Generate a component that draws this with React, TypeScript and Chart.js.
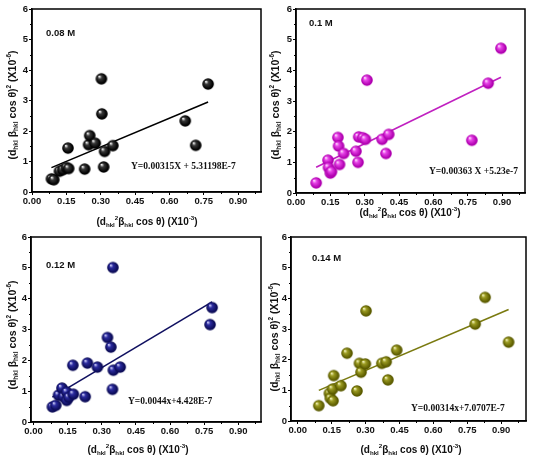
import React, { useEffect, useRef } from "react";
import { Chart, registerables } from "chart.js";

Chart.register(...registerables);

// Shared tick values (x in units of 1e-3, y in units of 1e-6)
const X_TICKS = [0, 0.15, 0.3, 0.45, 0.6, 0.75, 0.9];
const Y_TICKS = [0, 1, 2, 3, 4, 5, 6];

// 0.08 M
const X_008 = [0.085, 0.095, 0.12, 0.135, 0.15, 0.16, 0.157, 0.23, 0.247, 0.252, 0.276, 0.303, 0.305, 0.313, 0.317, 0.353, 0.669, 0.715, 0.769];
const Y_008 = [0.43, 0.4, 0.68, 0.73, 0.8, 0.77, 1.44, 0.75, 1.55, 1.85, 1.6, 3.71, 2.56, 0.82, 1.33, 1.52, 2.33, 1.53, 3.54];
const SLOPE_008 = 0.00315;
const INTERCEPT_008 = 5.31198e-7;
const EQ_008 = "Y=0.00315X + 5.31198E-7";

// 0.1 M
const X_010 = [0.088, 0.14, 0.142, 0.15, 0.155, 0.183, 0.186, 0.19, 0.208, 0.262, 0.271, 0.274, 0.292, 0.303, 0.31, 0.376, 0.393, 0.405, 0.768, 0.839, 0.895];
const Y_010 = [0.33, 1.07, 0.83, 0.65, 0.7, 1.81, 1.53, 0.93, 1.29, 1.36, 1.0, 1.83, 1.8, 1.75, 3.68, 1.75, 1.29, 1.91, 1.72, 3.58, 4.72];
const SLOPE_010 = 0.00363;
const INTERCEPT_010 = 5.23e-7;
const EQ_010 = "Y=0.00363 X +5.23e-7";

// 0.12 M
const X_012 = [0.083, 0.098, 0.11, 0.125, 0.132, 0.146, 0.146, 0.155, 0.175, 0.227, 0.173, 0.237, 0.281, 0.325, 0.34, 0.347, 0.351, 0.349, 0.381, 0.776, 0.785];
const Y_012 = [0.49, 0.54, 0.87, 1.1, 0.82, 0.97, 0.7, 0.8, 0.9, 0.82, 1.84, 1.91, 1.78, 2.74, 2.43, 1.06, 1.68, 5.01, 1.78, 3.16, 3.71];
const SLOPE_012 = 0.0044;
const INTERCEPT_012 = 4.428e-7;
const EQ_012 = "Y=0.0044x+4.428E-7";

// 0.14 M
const X_014 = [0.093, 0.14, 0.144, 0.156, 0.154, 0.159, 0.191, 0.218, 0.262, 0.273, 0.28, 0.299, 0.302, 0.372, 0.391, 0.399, 0.438, 0.785, 0.829, 0.933];
const Y_014 = [0.5, 0.9, 0.74, 0.66, 1.04, 1.48, 1.15, 2.21, 0.98, 1.88, 1.59, 1.86, 3.59, 1.88, 1.93, 1.34, 2.31, 3.16, 4.03, 2.57];
const SLOPE_014 = 0.00314;
const INTERCEPT_014 = 7.0707e-7;
const EQ_014 = "Y=0.00314x+7.0707E-7";

const LABELS = ["0.08 M", "0.1 M", "0.12 M", "0.14 M"];

type Seg = [string, number]; // 0 normal, 1 superscript, -1 subscript

const Y_TITLE: Seg[] = [
  ["(d", 0], ["hkl", -1], [" \u03B2", 0], ["hkl", -1], [" cos \u03B8)", 0], ["2", 1], [" (X10", 0], ["-6", 1], [")", 0],
];
const X_TITLE: Seg[] = [
  ["(d", 0], ["hkl", -1], ["2", 1], ["\u03B2", 0], ["hkl", -1], [" cos \u03B8) (X10", 0], ["-3", 1], [")", 0],
];

const SANS = '"Liberation Sans", Arial, sans-serif';
const SERIF = '"Liberation Serif", "Times New Roman", serif';

function drawRich(ctx: CanvasRenderingContext2D, segs: Seg[], x: number, y: number, size: number, vertical: boolean) {
  const fontFor = (k: number) => `bold ${k === 0 ? size : size * 0.62}px ${SANS}`;
  ctx.save();
  ctx.translate(x, y);
  if (vertical) ctx.rotate(-Math.PI / 2);
  let total = 0;
  for (const [t, k] of segs) {
    ctx.font = fontFor(k);
    total += ctx.measureText(t).width;
  }
  let cx = -total / 2;
  ctx.textAlign = "left";
  ctx.textBaseline = "alphabetic";
  ctx.fillStyle = "#111";
  for (const [t, k] of segs) {
    ctx.font = fontFor(k);
    const dy = k === 1 ? -size * 0.42 : k === -1 ? size * 0.22 : 0;
    ctx.fillText(t, cx, size * 0.36 + dy);
    cx += ctx.measureText(t).width;
  }
  ctx.restore();
}

function makeSphere(hi: string, mid: string, edge: string, r: number) {
  const c = document.createElement("canvas");
  const s = Math.ceil(r * 2) + 2;
  c.width = s;
  c.height = s;
  const g = c.getContext("2d")!;
  const cx = s / 2;
  const cy = s / 2;
  const grad = g.createRadialGradient(cx - r * 0.38, cy - r * 0.42, r * 0.05, cx, cy, r);
  grad.addColorStop(0, hi);
  grad.addColorStop(0.3, mid);
  grad.addColorStop(0.85, edge);
  grad.addColorStop(1, edge);
  g.fillStyle = grad;
  g.beginPath();
  g.arc(cx, cy, r, 0, Math.PI * 2);
  g.fill();
  return c;
}

interface PanelSpec {
  xs: number[];
  ys: number[];
  slope: number;
  intercept: number;
  eq: string;
  label: string;
  sphere: [string, string, string];
  lineColor: string;
  box: { left: number; top: number; width: number; height: number };
  pad: { yw: number; top: number; right: number; xh: number };
  xRange: [number, number];
  text: { yTitleX: number; yTitleY: number; xTitleX: number; xTitleY: number; labelX: number; labelY: number; eqX: number; eqY: number };
}

const PANELS: PanelSpec[] = [
  {
    xs: X_008, ys: Y_008, slope: SLOPE_008, intercept: INTERCEPT_008, eq: EQ_008, label: LABELS[0],
    sphere: ["#ffffff", "#3a3a3a", "#000000"], lineColor: "#000000",
    box: { left: 0, top: 0, width: 266, height: 230 },
    pad: { yw: 32, top: 9, right: 5, xh: 38 },
    xRange: [0, 1.0],
    text: { yTitleX: 12, yTitleY: 105, xTitleX: 147, xTitleY: 221, labelX: 46, labelY: 33, eqX: 131, eqY: 167 },
  },
  {
    xs: X_010, ys: Y_010, slope: SLOPE_010, intercept: INTERCEPT_010, eq: EQ_010, label: LABELS[1],
    sphere: ["#ffe0ff", "#e845e8", "#b000b0"], lineColor: "#c020c0",
    box: { left: 266, top: 0, width: 267, height: 230 },
    pad: { yw: 30, top: 9, right: 8, xh: 37 },
    xRange: [0, 1.0],
    text: { yTitleX: 9, yTitleY: 105, xTitleX: 144, xTitleY: 212, labelX: 43, labelY: 23, eqX: 163, eqY: 172 },
  },
  {
    xs: X_012, ys: Y_012, slope: SLOPE_012, intercept: INTERCEPT_012, eq: EQ_012, label: LABELS[2],
    sphere: ["#d8d8ff", "#2c2ca0", "#0c0c58"], lineColor: "#101060",
    box: { left: 0, top: 230, width: 266, height: 230 },
    pad: { yw: 31, top: 7, right: 5, xh: 38 },
    xRange: [-0.011, 1.0],
    text: { yTitleX: 12, yTitleY: 105, xTitleX: 138, xTitleY: 219, labelX: 46, labelY: 35, eqX: 128, eqY: 172 },
  },
  {
    xs: X_014, ys: Y_014, slope: SLOPE_014, intercept: INTERCEPT_014, eq: EQ_014, label: LABELS[3],
    sphere: ["#f6f6c0", "#9c9c22", "#5c5c00"], lineColor: "#7a7a10",
    box: { left: 266, top: 230, width: 267, height: 230 },
    pad: { yw: 25, top: 7, right: 7, xh: 39 },
    xRange: [-0.03, 1.01],
    text: { yTitleX: 8, yTitleY: 107, xTitleX: 145, xTitleY: 219, labelX: 46, labelY: 28, eqX: 145, eqY: 179 },
  },
];

function Panel({ spec }: { spec: PanelSpec }) {
  const ref = useRef<HTMLCanvasElement>(null);

  useEffect(() => {
    const canvas = ref.current!;
    const points = spec.xs.map((x, i) => ({ x, y: spec.ys[i] }));
    // Fitted line in plotted units: y(1e-6) = slope*1e3 * x(1e-3) + intercept*1e6
    const x0 = Math.min(...spec.xs);
    const x1 = Math.max(...spec.xs);
    const fit = (x: number) => spec.slope * 1e3 * x + spec.intercept * 1e6;
    const fitPts = [{ x: x0, y: fit(x0) }, { x: x1, y: fit(x1) }];
    const sphere = makeSphere(spec.sphere[0], spec.sphere[1], spec.sphere[2], 5.8);

    const decor = {
      id: "decor",
      afterDraw(chart: any) {
        const ctx: CanvasRenderingContext2D = chart.ctx;
        const a = chart.chartArea;
        const xs = chart.scales.x;
        const ys = chart.scales.y;
        ctx.save();
        // full frame
        ctx.strokeStyle = "#000";
        ctx.lineWidth = 1.5;
        ctx.strokeRect(a.left, a.top, a.right - a.left, a.bottom - a.top);
        // minor ticks
        ctx.lineWidth = 1;
        ctx.beginPath();
        for (let v = 0.5; v < 6; v += 1) {
          const p = Math.round(ys.getPixelForValue(v)) + 0.5;
          ctx.moveTo(a.left - 2, p);
          ctx.lineTo(a.left, p);
        }
        for (let v = 0.075; v < 1.0; v += 0.15) {
          const p = Math.round(xs.getPixelForValue(v)) + 0.5;
          ctx.moveTo(p, a.bottom);
          ctx.lineTo(p, a.bottom + 2);
        }
        ctx.stroke();
        const t = spec.text;
        drawRich(ctx, Y_TITLE, t.yTitleX, t.yTitleY, 10.5, true);
        drawRich(ctx, X_TITLE, t.xTitleX, t.xTitleY, 10, false);
        ctx.fillStyle = "#111";
        ctx.textBaseline = "middle";
        ctx.textAlign = "left";
        ctx.font = `bold 9.5px ${SANS}`;
        ctx.fillText(spec.label, t.labelX, t.labelY);
        ctx.font = `bold 9.5px ${SERIF}`;
        ctx.fillText(spec.eq, t.eqX, t.eqY);
        ctx.restore();
      },
    };

    const tickFont = { family: SANS, size: 9.5, weight: "bold" as const };
    const chart = new Chart(canvas, {
      type: "scatter",
      data: {
        datasets: [
          {
            type: "line",
            data: fitPts,
            borderColor: spec.lineColor,
            borderWidth: 1.6,
            pointRadius: 0,
            fill: false,
            order: 2,
          } as any,
          {
            data: points,
            pointStyle: sphere as any,
            pointRadius: 6,
            order: 1,
          },
        ],
      },
      options: {
        responsive: false,
        animation: false,
        devicePixelRatio: 1,
        layout: {
          autoPadding: false,
          padding: { left: 0, top: spec.pad.top, right: spec.pad.right, bottom: 0 },
        },
        plugins: { legend: { display: false }, tooltip: { enabled: false } },
        scales: {
          x: {
            type: "linear",
            min: spec.xRange[0],
            max: spec.xRange[1],
            afterBuildTicks: (s: any) => {
              s.ticks = X_TICKS.map((v) => ({ value: v }));
            },
            afterFit: (s: any) => {
              s.height = spec.pad.xh;
            },
            ticks: {
              callback: (v: any) => Number(v).toFixed(2),
              font: tickFont,
              color: "#111",
              padding: 1,
              maxRotation: 0,
              autoSkip: false,
            },
            grid: { drawOnChartArea: false, drawTicks: true, tickLength: 3, color: "#000", lineWidth: 1 },
            border: { display: true, color: "#000", width: 1.5 },
          },
          y: {
            type: "linear",
            min: 0,
            max: 6,
            afterBuildTicks: (s: any) => {
              s.ticks = Y_TICKS.map((v) => ({ value: v }));
            },
            afterFit: (s: any) => {
              s.width = spec.pad.yw;
            },
            ticks: {
              callback: (v: any) => String(v),
              font: tickFont,
              color: "#111",
              padding: 1,
              autoSkip: false,
            },
            grid: { drawOnChartArea: false, drawTicks: true, tickLength: 3, color: "#000", lineWidth: 1 },
            border: { display: true, color: "#000", width: 1.5 },
          },
        },
      },
      plugins: [decor],
    });
    return () => chart.destroy();
  }, [spec]);

  const b = spec.box;
  return (
    <canvas
      ref={ref}
      width={b.width}
      height={b.height}
      style={{ position: "absolute", left: b.left, top: b.top, width: b.width, height: b.height }}
    />
  );
}

export default function App() {
  useEffect(() => {
    document.body.style.margin = "0";
  }, []);
  return (
    <div style={{ position: "relative", width: 533, height: 460, background: "#fff", overflow: "hidden" }}>
      {PANELS.map((p, i) => (
        <Panel key={i} spec={p} />
      ))}
    </div>
  );
}
